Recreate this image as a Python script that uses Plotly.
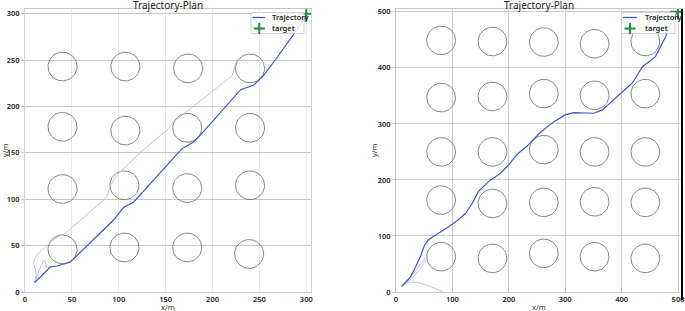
import numpy as np
import plotly.graph_objects as go

W, H = 685, 311

# ---------------- data: left panel ----------------
left_circle_x = [40, 107, 174, 240, 40, 107, 173, 240, 40, 106, 173, 240, 40, 106, 173, 239]
left_circle_y = [243, 243, 241, 241, 178, 174, 177, 177, 111, 115, 112, 115, 46, 48, 48, 41]
left_radius = 15.5

left_traj_x = [10, 27, 34, 48, 94, 105, 116, 156, 167, 180, 187, 230, 244, 254, 269, 298, 300]
left_traj_y = [10, 27, 28, 32, 77, 91, 97, 142, 154, 162, 169, 218, 223, 233, 253, 294, 300]

left_explore1_x = [10, 12, 11, 9, 10, 13, 18, 25, 30, 36, 40, 45, 87, 91, 98, 126, 153, 158, 221, 224, 226]
left_explore1_y = [10, 18, 25, 31, 35, 40, 45, 51, 56, 60, 61, 65, 102, 115, 126, 153, 176, 183, 233, 244, 250]
left_explore2_x = [10, 14, 16, 19, 21, 22, 23, 26, 28]
left_explore2_y = [10, 20, 27, 33, 34, 31, 27, 26, 28]

left_target = [300, 300]
left_ticks = [0, 50, 100, 150, 200, 250, 300]

# ---------------- data: right panel ----------------
right_circle_x = [80, 171, 262, 352, 442] * 5
right_circle_y = [449, 447, 446, 443, 447,
                  347, 349, 354, 351, 354,
                  250, 250, 254, 250, 250,
                  164, 158, 160, 161, 160,
                  63, 60, 69, 63, 60]
right_radius = 25.5

right_traj_x = [10, 25, 35, 44, 50, 57, 66, 90, 108, 123, 135, 146, 164, 185, 200, 214, 232,
                256, 280, 300, 315, 351, 366, 386, 419, 437, 460, 478, 495, 500]
right_traj_y = [10, 26, 45, 65, 82, 93, 99, 114, 127, 140, 158, 179, 197, 212, 227, 245, 260,
                285, 304, 316, 320, 319, 325, 343, 373, 402, 420, 456, 495, 500]

right_explore_a_x = [10, 20, 30, 45, 60, 75, 84]
right_explore_a_y = [10, 17, 18, 15, 10, 4, 0]
right_explore_b_x = [10, 25, 40, 57]
right_explore_b_y = [10, 25, 45, 66]
right_explore_c_x = [10, 28, 42, 55]
right_explore_c_y = [10, 24, 40, 60]

right_target = [500, 500]
right_ticks = [0, 100, 200, 300, 400, 500]

MAIN = "#3d56c4"
LIGHT = "#b4b9ec"
CIRC = "#666666"
GREEN = "#1f8f3a"
FONT = "Noto Sans"


def circle_path(cx, cy, r, n=72):
    xs, ys = [], []
    t = np.linspace(0, 2 * np.pi, n)
    for x0, y0 in zip(cx, cy):
        xs += list(x0 + r * np.cos(t)) + [None]
        ys += list(y0 + r * np.sin(t)) + [None]
    return xs, ys


fig = go.Figure()

# left panel
cx, cy = circle_path(left_circle_x, left_circle_y, left_radius)
fig.add_trace(go.Scatter(x=cx, y=cy, mode="lines", line=dict(color=CIRC, width=0.8),
                         name="obstacles", showlegend=False, xaxis="x", yaxis="y"))
for ex, ey in [(left_explore1_x, left_explore1_y), (left_explore2_x, left_explore2_y)]:
    fig.add_trace(go.Scatter(x=ex, y=ey, mode="lines", line=dict(color=LIGHT, width=0.9),
                             name="explore", showlegend=False, xaxis="x", yaxis="y"))
fig.add_trace(go.Scatter(x=left_traj_x, y=left_traj_y, mode="lines", line=dict(color=MAIN, width=1.2),
                         name="Trajectory", showlegend=False, xaxis="x", yaxis="y"))
fig.add_trace(go.Scatter(x=[left_target[0]], y=[left_target[1]], mode="markers",
                         marker=dict(symbol="cross-thin", size=11, line=dict(color=GREEN, width=2)),
                         name="target", showlegend=False, xaxis="x", yaxis="y", cliponaxis=True))

# right panel
cx, cy = circle_path(right_circle_x, right_circle_y, right_radius)
fig.add_trace(go.Scatter(x=cx, y=cy, mode="lines", line=dict(color=CIRC, width=0.8),
                         name="obstacles", showlegend=False, xaxis="x2", yaxis="y2"))
for ex, ey in [(right_explore_a_x, right_explore_a_y), (right_explore_b_x, right_explore_b_y),
               (right_explore_c_x, right_explore_c_y)]:
    fig.add_trace(go.Scatter(x=ex, y=ey, mode="lines", line=dict(color=LIGHT, width=0.9),
                             name="explore", showlegend=False, xaxis="x2", yaxis="y2"))
fig.add_trace(go.Scatter(x=right_traj_x, y=right_traj_y, mode="lines", line=dict(color=MAIN, width=1.2),
                         name="Trajectory", showlegend=False, xaxis="x2", yaxis="y2"))
fig.add_trace(go.Scatter(x=[right_target[0]], y=[right_target[1]], mode="markers",
                         marker=dict(symbol="cross-thin", size=11, line=dict(color=GREEN, width=2)),
                         name="target", showlegend=False, xaxis="x2", yaxis="y2", cliponaxis=True))


def px(x):
    return x / W


def py(y):
    return 1 - y / H


tickfont = dict(family=FONT, size=7.5, color="#222", weight=600)
ydom = [py(292), py(9)]

common = dict(showgrid=True, gridwidth=1, zeroline=False, showline=True, mirror=True,
              automargin=False, tickfont=tickfont, tickcolor="#c4c4c4")

fig.update_layout(
    width=W, height=H, margin=dict(l=0, r=0, t=0, b=0, autoexpand=False),
    paper_bgcolor="white", plot_bgcolor="white", showlegend=False,
    font=dict(family=FONT, size=8, color="#222"),
    xaxis=dict(domain=[px(25), px(311)], range=[0, 305], tickvals=left_ticks,
               gridcolor="#e4ebf0", linecolor="#c4c4c4", ticks="", **common),
    yaxis=dict(domain=ydom, range=[0, 305], tickvals=left_ticks,
               gridcolor="#c8c8c8", linecolor="#d4d4d4", ticks="outside", ticklen=3, **common),
    xaxis2=dict(domain=[px(396), px(682)], range=[0, 507], tickvals=right_ticks,
                gridcolor="#cdcdcd", linecolor="#c4c4c4", ticks="",
                anchor="y2", **common),
    yaxis2=dict(domain=ydom, range=[0, 505], tickvals=right_ticks,
                gridcolor="#cdcdcd", linecolor="#c4c4c4", ticks="outside", ticklen=3,
                anchor="x2", **common),
)

annotations = []
shapes = []
for (xl, xr, xt) in [(25, 311, 5), (396, 682, 374)]:
    mid = (xl + xr) / 2
    annotations.append(dict(text="Trajectory-Plan", x=px(mid), y=py(5), xref="paper", yref="paper",
                            xanchor="center", yanchor="middle", showarrow=False,
                            font=dict(family=FONT, size=10, color="#222")))
    annotations.append(dict(text="x/m", x=px(mid), y=py(306.5), xref="paper", yref="paper",
                            xanchor="center", yanchor="middle", showarrow=False,
                            font=dict(family=FONT, size=7.5, color="#333")))
    annotations.append(dict(text="y/m", x=px(xt), y=py(150), xref="paper", yref="paper",
                            xanchor="center", yanchor="middle", showarrow=False, textangle=-90,
                            font=dict(family=FONT, size=7.5, color="#333")))

# thick black right border on right panel
shapes.append(dict(type="line", xref="paper", yref="paper", x0=px(682), x1=px(682),
                   y0=py(300), y1=py(9), line=dict(color="black", width=2)))

# hand-built compact legends
for (bx0, bx1, lx0, lx1, cxp, tx) in [(251, 304, 252.5, 265, 259.3, 270),
                                      (621.5, 675, 623, 637, 630, 643)]:
    shapes.append(dict(type="rect", xref="paper", yref="paper", x0=px(bx0), x1=px(bx1),
                       y0=py(33.5), y1=py(12.5), line=dict(color="#d0d0d0", width=1),
                       fillcolor="rgba(255,255,255,0.85)", layer="above"))
    shapes.append(dict(type="line", xref="paper", yref="paper", x0=px(lx0), x1=px(lx1),
                       y0=py(17.5), y1=py(17.5), line=dict(color=MAIN, width=1.3), layer="above"))
    shapes.append(dict(type="line", xref="paper", yref="paper", x0=px(cxp - 5.5), x1=px(cxp + 5.5),
                       y0=py(28.5), y1=py(28.5), line=dict(color=GREEN, width=2), layer="above"))
    shapes.append(dict(type="line", xref="paper", yref="paper", x0=px(cxp), x1=px(cxp),
                       y0=py(23), y1=py(34), line=dict(color=GREEN, width=2), layer="above"))
    annotations.append(dict(text="Trajectory", x=px(tx), y=py(17.5), xref="paper", yref="paper",
                            xanchor="left", yanchor="middle", showarrow=False,
                            font=dict(family=FONT, size=7.5, color="#222", weight=600)))
    annotations.append(dict(text="target", x=px(tx), y=py(28), xref="paper", yref="paper",
                            xanchor="left", yanchor="middle", showarrow=False,
                            font=dict(family=FONT, size=7.5, color="#222", weight=600)))

fig.update_layout(annotations=annotations, shapes=shapes)
fig.write_html("out.html", config={"displayModeBar": False},
               post_script="document.body.style.margin='0';document.body.style.overflow='hidden';")
